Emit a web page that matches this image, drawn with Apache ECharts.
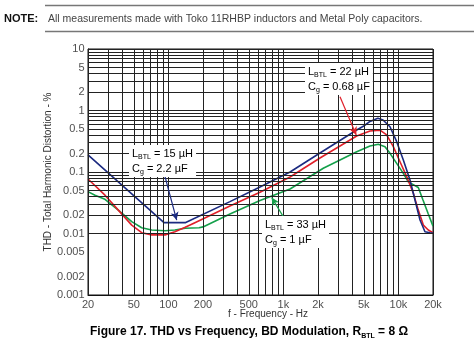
<!DOCTYPE html>
<html><head><meta charset="utf-8">
<script src="https://cdn.jsdelivr.net/npm/echarts@6/dist/echarts.min.js"></script>
<style>html,body{margin:0;padding:0;background:#fff}#c{width:474px;height:357px}</style>
</head><body><div id="c"></div>
<script>
// ---- data ----
const xGridValues = [20,30,40,50,60,70,80,90,100,200,300,400,500,600,700,800,900,1000,2000,3000,4000,5000,6000,7000,8000,9000,10000,20000];
const yGridValues = [0.001,0.002,0.003,0.004,0.005,0.006,0.007,0.008,0.009,0.01,0.02,0.03,0.04,0.05,0.06,0.07,0.08,0.09,0.1,0.2,0.3,0.4,0.5,0.6,0.7,0.8,0.9,1,2,3,4,5,6,7,8,9,10];
const xTickValues = [20,50,100,200,500,1000,2000,5000,10000,20000];
const xTickLabels = ['20','50','100','200','500','1k','2k','5k','10k','20k'];
const yTickValues = [10,5,2,1,0.5,0.2,0.1,0.05,0.02,0.01,0.005,0.002,0.001];
const yTickLabels = ['10','5','2','1','0.5','0.2','0.1','0.05','0.02','0.01','0.005','0.002','0.001'];

// L=15uH, Cg=2.2uF (blue)
const blueFreq = [20, 91.6, 140, 343, 626, 1143, 2081, 4340, 5000, 5664, 6630, 7347, 8455, 9665, 11040, 12620, 13940, 15420, 17030, 18830, 20000];
const blueThd  = [0.19, 0.015, 0.015, 0.033, 0.057, 0.1, 0.204, 0.482, 0.56, 0.663, 0.75, 0.70, 0.545, 0.311, 0.157, 0.074, 0.035, 0.0166, 0.0107, 0.0103, 0.0102];
// L=22uH, Cg=0.68uF (red)
const redFreq = [20, 28.1, 36.7, 48, 58.6, 71.6, 93.5, 114, 140, 170, 343, 626, 1143, 2081, 4340, 5664, 6923, 7910, 9036, 10330, 11810, 13490, 14900, 16480, 18200, 20000];
const redThd  = [0.077, 0.042, 0.024, 0.0137, 0.0103, 0.0095, 0.0095, 0.0107, 0.0126, 0.015, 0.028, 0.047, 0.083, 0.169, 0.385, 0.464, 0.48, 0.40, 0.258, 0.147, 0.084, 0.045, 0.024, 0.0137, 0.0114, 0.0103];
// L=33uH, Cg=1uF (green)
const greenFreq = [20, 23, 28.1, 36.7, 48, 58.6, 71.6, 93.5, 114, 140, 185, 200, 343, 626, 1143, 2223, 4344, 5664, 6690, 7650, 8455, 9665, 11040, 12190, 14900, 16370, 18100, 20000];
const greenThd  = [0.048, 0.042, 0.036, 0.024, 0.0156, 0.0124, 0.0114, 0.0111, 0.0114, 0.0122, 0.0124, 0.0128, 0.0208, 0.0344, 0.053, 0.115, 0.214, 0.265, 0.282, 0.258, 0.201, 0.138, 0.095, 0.069, 0.056, 0.035, 0.0213, 0.0132];

// annotation arrows: [fromFreq, fromThd, toFreq, toThd]
const blueArrow  = [93.5, 0.084, 118, 0.0165];
const redArrow   = [3107, 1.67, 4300, 0.40];
const greenArrow = [998, 0.0188, 791, 0.0385];

const FONT = "'Liberation Sans', Arial, sans-serif";
const BLUE = '#1b2a80', RED = '#e0202a', GREEN = '#14a04a';

function pairs(f, v) { return f.map((x, i) => [x, v[i]]); }
function arrowLine(a, color) {
  return {
    silent: true, animation: false, symbol: ['none', 'arrow'], symbolSize: [6, 8],
    label: { show: false }, lineStyle: { color: color, width: 1.2, type: 'solid' },
    emphasis: { disabled: true },
    data: [[{ coord: [a[0], a[1]] }, { coord: [a[2], a[3]] }]]
  };
}

const chart = echarts.init(document.getElementById('c'), null, { renderer: 'canvas' });

const rich = {
  n: { fontSize: 11, fontFamily: FONT, color: '#111', lineHeight: 15 },
  s: { fontSize: 7, fontFamily: FONT, color: '#111', lineHeight: 9, verticalAlign: 'bottom' }
};
function ann(x, y, l, c) {
  return {
    type: 'text', left: x, top: y, z: 100,
    style: {
      text: '{n|L}{s|BTL}{n| = ' + l + '}\n{n|C}{s|g}{n| = ' + c + '}',
      rich: rich, backgroundColor: '#fff', padding: [1, 3, 1, 3], font: '11px ' + FONT
    }
  };
}

chart.setOption({
  animation: false,
  backgroundColor: '#fff',
  grid: { left: 88, right: 41, top: 49, bottom: 62, show: true, borderColor: '#111', borderWidth: 1, backgroundColor: 'transparent', outerBoundsMode: 'none' },
  xAxis: {
    type: 'log', logBase: 10, min: 20, max: 20000,
    axisLine: { show: true, lineStyle: { color: '#111', width: 1 } },
    axisTick: { show: false }, axisLabel: { show: false }, splitLine: { show: false }, minorTick: { show: false }
  },
  yAxis: {
    type: 'log', logBase: 10, min: 0.001, max: 10,
    name: 'THD - Total Harmonic Distortion - %', nameLocation: 'middle', nameGap: 35, nameRotate: 90,
    nameTextStyle: { fontSize: 10, fontFamily: FONT, color: '#333' },
    axisLine: { show: true, lineStyle: { color: '#111', width: 1 } },
    axisTick: { show: false }, axisLabel: { show: false }, splitLine: { show: false }
  },
  graphic: [
    { type: 'line', shape: { x1: 45, y1: 5.5, x2: 474, y2: 5.5 }, style: { stroke: '#777', lineWidth: 1.5 } },
    { type: 'line', shape: { x1: 45, y1: 31.5, x2: 474, y2: 31.5 }, style: { stroke: '#777', lineWidth: 1.5 } },
    { type: 'text', left: 4, top: 13, style: { text: 'NOTE:', font: 'bold 11px ' + FONT, fill: '#111' } },
    { type: 'text', left: 48, top: 13.5, style: { text: 'All measurements made with Toko 11RHBP inductors and Metal Poly capacitors.', font: '10.5px ' + FONT, fill: '#444' } },
    { type: 'text', left: 228, top: 309, style: { text: 'f - Frequency - Hz', font: '10px ' + FONT, fill: '#333' } },
    {
      type: 'text', left: 90, top: 326,
      style: {
        text: '{b|Figure 17. THD vs Frequency, BD Modulation, R}{s|BTL}{b| = 8 Ω}',
        rich: {
          b: { fontSize: 12, fontWeight: 'bold', fontFamily: FONT, color: '#111', lineHeight: 16 },
          s: { fontSize: 7, fontWeight: 'bold', fontFamily: FONT, color: '#111', lineHeight: 9, verticalAlign: 'bottom' }
        }
      }
    },
    ann(129, 145, '15 µH', '2.2 µF'),
    ann(305, 63, '22 µH', '0.68 µF'),
    ann(262, 216, '33 µH', '1 µF')
  ],
  series: [
    {
      type: 'line', data: [], z: 1, silent: true,
      markLine: {
        silent: true, animation: false, symbol: ['none', 'none'], label: { show: false },
        lineStyle: { color: '#222', width: 1, type: 'solid' }, emphasis: { disabled: true },
        data: xGridValues.map(v => ({ xAxis: v })).concat(yGridValues.map(v => ({ yAxis: v })))
      }
    },
    {
      type: 'scatter', z: 5, silent: true, symbolSize: 1, clip: false,
      itemStyle: { color: 'rgba(0,0,0,0)' },
      label: { show: true, position: 'bottom', distance: 4, formatter: '{b}', fontSize: 11, fontFamily: FONT, color: '#222' },
      data: xTickValues.map((v, i) => ({ name: xTickLabels[i], value: [v, 0.001] }))
    },
    {
      type: 'scatter', z: 5, silent: true, symbolSize: 1, clip: false,
      itemStyle: { color: 'rgba(0,0,0,0)' },
      label: { show: true, position: 'left', distance: 3, formatter: '{b}', fontSize: 11, fontFamily: FONT, color: '#222' },
      data: yTickValues.map((v, i) => ({ name: yTickLabels[i], value: [20, v] }))
    },
    { type: 'line', z: 3, silent: true, symbol: 'none', data: pairs(greenFreq, greenThd), lineStyle: { color: GREEN, width: 1.6 }, markLine: arrowLine(greenArrow, GREEN) },
    { type: 'line', z: 3, silent: true, symbol: 'none', data: pairs(redFreq, redThd), lineStyle: { color: RED, width: 1.6 }, markLine: arrowLine(redArrow, RED) },
    { type: 'line', z: 3, silent: true, symbol: 'none', data: pairs(blueFreq, blueThd), lineStyle: { color: BLUE, width: 1.6 }, markLine: arrowLine(blueArrow, BLUE) }
  ]
});
</script>
</body></html>
